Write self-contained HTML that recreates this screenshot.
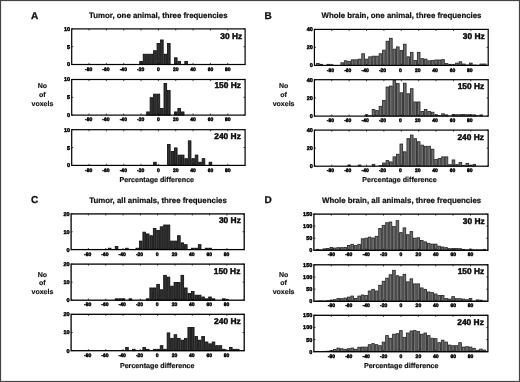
<!DOCTYPE html>
<html lang="en"><head><meta charset="utf-8"><title>Histograms of percentage difference</title>
<style>
html,body{margin:0;padding:0;background:#fff;}
body{width:520px;height:382px;overflow:hidden;}
svg{display:block;font-family:'Liberation Sans', Arial, Helvetica, sans-serif;text-rendering:geometricPrecision;}
</style></head><body>
<svg width="520" height="382" viewBox="0 0 520 382">
<defs><filter id="soft" x="0" y="0" width="520" height="382" filterUnits="userSpaceOnUse"><feGaussianBlur stdDeviation="0.32"/></filter></defs>
<rect x="0" y="0" width="520" height="382" fill="#fff"/>
<g filter="url(#soft)">
<g fill="#303030" stroke="#0c0c0c" stroke-width="0.8"><rect x="139.73" y="61.34" width="2.67" height="3.16"/><rect x="143.19" y="54.22" width="2.67" height="10.28"/><rect x="146.66" y="54.22" width="2.67" height="10.28"/><rect x="150.13" y="54.22" width="2.67" height="10.28"/><rect x="153.60" y="50.66" width="2.67" height="13.84"/><rect x="157.07" y="43.54" width="2.67" height="20.96"/><rect x="160.53" y="39.98" width="2.67" height="24.52"/><rect x="164.00" y="54.22" width="2.67" height="10.28"/><rect x="167.47" y="43.54" width="2.67" height="20.96"/><rect x="174.41" y="57.78" width="2.67" height="6.72"/><rect x="177.87" y="61.34" width="2.67" height="3.16"/><rect x="184.81" y="61.34" width="2.67" height="3.16"/></g>
<rect x="71.70" y="28.90" width="173.40" height="35.60" fill="none" stroke="#050505" stroke-width="1.2"/>
<path d="M89.04 64.50v-1.6M89.04 28.90v1.6M106.38 64.50v-1.6M106.38 28.90v1.6M123.72 64.50v-1.6M123.72 28.90v1.6M141.06 64.50v-1.6M141.06 28.90v1.6M158.40 64.50v-1.6M158.40 28.90v1.6M175.74 64.50v-1.6M175.74 28.90v1.6M193.08 64.50v-1.6M193.08 28.90v1.6M210.42 64.50v-1.6M210.42 28.90v1.6M227.76 64.50v-1.6M227.76 28.90v1.6M71.70 64.50h1.6M245.10 64.50h-1.6M71.70 46.70h1.6M245.10 46.70h-1.6M71.70 28.90h1.6M245.10 28.90h-1.6" stroke="#050505" stroke-width="0.7" fill="none"/>
<g font-size="5" font-weight="bold" fill="#050505" stroke="#050505" stroke-width="0.45"><text x="88.64" y="70.65" text-anchor="middle">-80</text><text x="105.98" y="70.65" text-anchor="middle">-60</text><text x="123.32" y="70.65" text-anchor="middle">-40</text><text x="140.66" y="70.65" text-anchor="middle">-20</text><text x="158.40" y="70.65" text-anchor="middle">0</text><text x="175.74" y="70.65" text-anchor="middle">20</text><text x="193.08" y="70.65" text-anchor="middle">40</text><text x="210.42" y="70.65" text-anchor="middle">60</text><text x="227.76" y="70.65" text-anchor="middle">80</text><text x="70.10" y="66.45" text-anchor="end" font-size="5.5">0</text><text x="70.10" y="48.65" text-anchor="end" font-size="5.5">5</text><text x="70.10" y="30.85" text-anchor="end" font-size="5.5">10</text></g>
<text x="242.15" y="38.65" text-anchor="end" font-size="8.4" font-weight="bold" fill="#080808" stroke="#080808" stroke-width="0.4">30 Hz</text>
<g fill="#303030" stroke="#0c0c0c" stroke-width="0.8"><rect x="146.66" y="111.94" width="2.67" height="3.16"/><rect x="150.13" y="97.70" width="2.67" height="17.40"/><rect x="153.60" y="94.14" width="2.67" height="20.96"/><rect x="157.07" y="94.14" width="2.67" height="20.96"/><rect x="160.53" y="108.38" width="2.67" height="6.72"/><rect x="164.00" y="83.46" width="2.67" height="31.64"/><rect x="167.47" y="90.58" width="2.67" height="24.52"/><rect x="174.41" y="111.94" width="2.67" height="3.16"/><rect x="177.87" y="108.38" width="2.67" height="6.72"/><rect x="181.34" y="111.94" width="2.67" height="3.16"/></g>
<rect x="71.70" y="79.50" width="173.40" height="35.60" fill="none" stroke="#050505" stroke-width="1.2"/>
<path d="M89.04 115.10v-1.6M89.04 79.50v1.6M106.38 115.10v-1.6M106.38 79.50v1.6M123.72 115.10v-1.6M123.72 79.50v1.6M141.06 115.10v-1.6M141.06 79.50v1.6M158.40 115.10v-1.6M158.40 79.50v1.6M175.74 115.10v-1.6M175.74 79.50v1.6M193.08 115.10v-1.6M193.08 79.50v1.6M210.42 115.10v-1.6M210.42 79.50v1.6M227.76 115.10v-1.6M227.76 79.50v1.6M71.70 115.10h1.6M245.10 115.10h-1.6M71.70 97.30h1.6M245.10 97.30h-1.6M71.70 79.50h1.6M245.10 79.50h-1.6" stroke="#050505" stroke-width="0.7" fill="none"/>
<g font-size="5" font-weight="bold" fill="#050505" stroke="#050505" stroke-width="0.45"><text x="88.64" y="121.25" text-anchor="middle">-80</text><text x="105.98" y="121.25" text-anchor="middle">-60</text><text x="123.32" y="121.25" text-anchor="middle">-40</text><text x="140.66" y="121.25" text-anchor="middle">-20</text><text x="158.40" y="121.25" text-anchor="middle">0</text><text x="175.74" y="121.25" text-anchor="middle">20</text><text x="193.08" y="121.25" text-anchor="middle">40</text><text x="210.42" y="121.25" text-anchor="middle">60</text><text x="227.76" y="121.25" text-anchor="middle">80</text><text x="70.10" y="117.05" text-anchor="end" font-size="5.5">0</text><text x="70.10" y="99.25" text-anchor="end" font-size="5.5">5</text><text x="70.10" y="81.45" text-anchor="end" font-size="5.5">10</text></g>
<text x="240.95" y="88.35" text-anchor="end" font-size="8.4" font-weight="bold" fill="#080808" stroke="#080808" stroke-width="0.4">150 Hz</text>
<g fill="#303030" stroke="#0c0c0c" stroke-width="0.8"><rect x="153.60" y="162.23" width="2.67" height="3.17"/><rect x="167.47" y="144.38" width="2.67" height="21.02"/><rect x="170.94" y="151.52" width="2.67" height="13.88"/><rect x="174.41" y="147.95" width="2.67" height="17.45"/><rect x="177.87" y="155.09" width="2.67" height="10.31"/><rect x="181.34" y="155.09" width="2.67" height="10.31"/><rect x="184.81" y="158.66" width="2.67" height="6.74"/><rect x="188.28" y="140.81" width="2.67" height="24.59"/><rect x="191.75" y="158.66" width="2.67" height="6.74"/><rect x="195.21" y="155.09" width="2.67" height="10.31"/><rect x="198.68" y="162.23" width="2.67" height="3.17"/><rect x="202.15" y="158.66" width="2.67" height="6.74"/><rect x="209.09" y="162.23" width="2.67" height="3.17"/></g>
<rect x="71.70" y="129.70" width="173.40" height="35.70" fill="none" stroke="#050505" stroke-width="1.2"/>
<path d="M89.04 165.40v-1.6M89.04 129.70v1.6M106.38 165.40v-1.6M106.38 129.70v1.6M123.72 165.40v-1.6M123.72 129.70v1.6M141.06 165.40v-1.6M141.06 129.70v1.6M158.40 165.40v-1.6M158.40 129.70v1.6M175.74 165.40v-1.6M175.74 129.70v1.6M193.08 165.40v-1.6M193.08 129.70v1.6M210.42 165.40v-1.6M210.42 129.70v1.6M227.76 165.40v-1.6M227.76 129.70v1.6M71.70 165.40h1.6M245.10 165.40h-1.6M71.70 147.55h1.6M245.10 147.55h-1.6M71.70 129.70h1.6M245.10 129.70h-1.6" stroke="#050505" stroke-width="0.7" fill="none"/>
<g font-size="5" font-weight="bold" fill="#050505" stroke="#050505" stroke-width="0.45"><text x="88.64" y="171.55" text-anchor="middle">-80</text><text x="105.98" y="171.55" text-anchor="middle">-60</text><text x="123.32" y="171.55" text-anchor="middle">-40</text><text x="140.66" y="171.55" text-anchor="middle">-20</text><text x="158.40" y="171.55" text-anchor="middle">0</text><text x="175.74" y="171.55" text-anchor="middle">20</text><text x="193.08" y="171.55" text-anchor="middle">40</text><text x="210.42" y="171.55" text-anchor="middle">60</text><text x="227.76" y="171.55" text-anchor="middle">80</text><text x="70.10" y="167.35" text-anchor="end" font-size="5.5">0</text><text x="70.10" y="149.50" text-anchor="end" font-size="5.5">5</text><text x="70.10" y="131.65" text-anchor="end" font-size="5.5">10</text></g>
<text x="240.85" y="138.95" text-anchor="end" font-size="8.4" font-weight="bold" fill="#080808" stroke="#080808" stroke-width="0.4">240 Hz</text>
<g fill="#6e6e6e" stroke="#282828" stroke-width="0.85"><rect x="316.56" y="63.48" width="2.63" height="1.92"/><rect x="340.89" y="62.77" width="2.63" height="2.64"/><rect x="344.37" y="60.79" width="2.63" height="4.62"/><rect x="347.85" y="61.33" width="2.63" height="4.08"/><rect x="351.32" y="59.80" width="2.63" height="5.61"/><rect x="354.80" y="59.80" width="2.63" height="5.61"/><rect x="358.27" y="59.16" width="2.63" height="6.24"/><rect x="361.75" y="53.77" width="2.63" height="11.64"/><rect x="365.23" y="59.16" width="2.63" height="6.24"/><rect x="368.70" y="56.83" width="2.63" height="8.58"/><rect x="372.18" y="56.20" width="2.63" height="9.21"/><rect x="375.65" y="56.20" width="2.63" height="9.21"/><rect x="379.13" y="53.77" width="2.63" height="11.64"/><rect x="382.61" y="50.16" width="2.63" height="15.24"/><rect x="386.08" y="41.25" width="2.63" height="24.15"/><rect x="389.56" y="38.28" width="2.63" height="27.12"/><rect x="393.03" y="49.17" width="2.63" height="16.23"/><rect x="396.51" y="46.92" width="2.63" height="18.48"/><rect x="399.99" y="50.52" width="2.63" height="14.88"/><rect x="403.46" y="44.23" width="2.63" height="21.18"/><rect x="406.94" y="56.83" width="2.63" height="8.58"/><rect x="410.41" y="52.33" width="2.63" height="13.08"/><rect x="413.89" y="60.43" width="2.63" height="4.98"/><rect x="417.37" y="52.33" width="2.63" height="13.08"/><rect x="420.84" y="58.62" width="2.63" height="6.78"/><rect x="424.32" y="59.16" width="2.63" height="6.24"/><rect x="427.79" y="60.79" width="2.63" height="4.62"/><rect x="431.27" y="60.43" width="2.63" height="4.98"/><rect x="434.75" y="59.98" width="2.63" height="5.43"/><rect x="438.22" y="59.98" width="2.63" height="5.43"/><rect x="441.70" y="59.62" width="2.63" height="5.79"/><rect x="445.17" y="63.58" width="2.63" height="1.83"/><rect x="455.60" y="63.12" width="2.63" height="2.28"/><rect x="459.08" y="61.78" width="2.63" height="3.63"/><rect x="462.55" y="64.03" width="2.63" height="1.38"/><rect x="469.51" y="63.12" width="2.63" height="2.28"/><rect x="479.94" y="64.03" width="2.63" height="1.38"/><rect x="483.41" y="64.03" width="2.63" height="1.38"/></g>
<g fill="#282828"><rect x="319.61" y="63.90" width="3.48" height="1.50"/><rect x="326.57" y="63.90" width="3.48" height="1.50"/><rect x="330.04" y="64.35" width="3.48" height="1.05"/><rect x="448.23" y="63.90" width="3.48" height="1.50"/><rect x="451.70" y="64.17" width="3.48" height="1.23"/><rect x="465.61" y="64.53" width="3.48" height="0.87"/><rect x="472.56" y="64.53" width="3.48" height="0.87"/><rect x="476.03" y="64.80" width="3.48" height="0.60"/></g>
<rect x="314.40" y="29.40" width="173.80" height="36.00" fill="none" stroke="#050505" stroke-width="1.2"/>
<path d="M331.78 65.40v-1.6M331.78 29.40v1.6M349.16 65.40v-1.6M349.16 29.40v1.6M366.54 65.40v-1.6M366.54 29.40v1.6M383.92 65.40v-1.6M383.92 29.40v1.6M401.30 65.40v-1.6M401.30 29.40v1.6M418.68 65.40v-1.6M418.68 29.40v1.6M436.06 65.40v-1.6M436.06 29.40v1.6M453.44 65.40v-1.6M453.44 29.40v1.6M470.82 65.40v-1.6M470.82 29.40v1.6M314.40 65.40h1.6M488.20 65.40h-1.6M314.40 47.40h1.6M488.20 47.40h-1.6M314.40 29.40h1.6M488.20 29.40h-1.6" stroke="#050505" stroke-width="0.7" fill="none"/>
<g font-size="5" font-weight="bold" fill="#050505" stroke="#050505" stroke-width="0.45"><text x="330.38" y="71.55" text-anchor="middle">-80</text><text x="347.76" y="71.55" text-anchor="middle">-60</text><text x="365.14" y="71.55" text-anchor="middle">-40</text><text x="382.52" y="71.55" text-anchor="middle">-20</text><text x="400.30" y="71.55" text-anchor="middle">0</text><text x="417.68" y="71.55" text-anchor="middle">20</text><text x="435.06" y="71.55" text-anchor="middle">40</text><text x="452.44" y="71.55" text-anchor="middle">60</text><text x="469.82" y="71.55" text-anchor="middle">80</text><text x="312.80" y="67.35" text-anchor="end" font-size="5.5">0</text><text x="312.80" y="49.35" text-anchor="end" font-size="5.5">20</text><text x="312.80" y="31.35" text-anchor="end" font-size="5.5">40</text></g>
<text x="484.65" y="38.65" text-anchor="end" font-size="8.4" font-weight="bold" fill="#080808" stroke="#080808" stroke-width="0.4">30 Hz</text>
<g fill="#6e6e6e" stroke="#282828" stroke-width="0.85"><rect x="365.23" y="114.70" width="2.63" height="1.39"/><rect x="372.18" y="109.43" width="2.63" height="6.67"/><rect x="375.65" y="110.61" width="2.63" height="5.49"/><rect x="379.13" y="106.33" width="2.63" height="9.77"/><rect x="382.61" y="100.42" width="2.63" height="15.68"/><rect x="386.08" y="87.04" width="2.63" height="29.06"/><rect x="389.56" y="86.04" width="2.63" height="30.06"/><rect x="393.03" y="80.58" width="2.63" height="35.52"/><rect x="396.51" y="83.58" width="2.63" height="32.52"/><rect x="399.99" y="92.77" width="2.63" height="23.33"/><rect x="403.46" y="83.22" width="2.63" height="32.88"/><rect x="406.94" y="93.77" width="2.63" height="22.32"/><rect x="410.41" y="88.68" width="2.63" height="27.42"/><rect x="413.89" y="101.96" width="2.63" height="14.13"/><rect x="417.37" y="101.96" width="2.63" height="14.13"/><rect x="420.84" y="111.43" width="2.63" height="4.67"/><rect x="424.32" y="109.43" width="2.63" height="6.67"/><rect x="427.79" y="111.43" width="2.63" height="4.67"/><rect x="431.27" y="112.25" width="2.63" height="3.85"/><rect x="434.75" y="114.70" width="2.63" height="1.39"/><rect x="441.70" y="113.79" width="2.63" height="2.30"/><rect x="445.17" y="114.89" width="2.63" height="1.21"/><rect x="452.13" y="114.52" width="2.63" height="1.58"/><rect x="455.60" y="114.70" width="2.63" height="1.39"/><rect x="459.08" y="114.70" width="2.63" height="1.39"/><rect x="462.55" y="114.52" width="2.63" height="1.58"/><rect x="466.03" y="114.70" width="2.63" height="1.39"/><rect x="469.51" y="114.70" width="2.63" height="1.39"/><rect x="472.98" y="114.89" width="2.63" height="1.21"/><rect x="479.94" y="114.89" width="2.63" height="1.21"/></g>
<g fill="#282828"><rect x="368.28" y="115.31" width="3.48" height="0.79"/><rect x="437.80" y="115.04" width="3.48" height="1.06"/><rect x="448.23" y="115.49" width="3.48" height="0.60"/><rect x="476.03" y="115.22" width="3.48" height="0.88"/></g>
<rect x="314.40" y="79.70" width="173.80" height="36.40" fill="none" stroke="#050505" stroke-width="1.2"/>
<path d="M331.78 116.10v-1.6M331.78 79.70v1.6M349.16 116.10v-1.6M349.16 79.70v1.6M366.54 116.10v-1.6M366.54 79.70v1.6M383.92 116.10v-1.6M383.92 79.70v1.6M401.30 116.10v-1.6M401.30 79.70v1.6M418.68 116.10v-1.6M418.68 79.70v1.6M436.06 116.10v-1.6M436.06 79.70v1.6M453.44 116.10v-1.6M453.44 79.70v1.6M470.82 116.10v-1.6M470.82 79.70v1.6M314.40 116.10h1.6M488.20 116.10h-1.6M314.40 97.90h1.6M488.20 97.90h-1.6M314.40 79.70h1.6M488.20 79.70h-1.6" stroke="#050505" stroke-width="0.7" fill="none"/>
<g font-size="5" font-weight="bold" fill="#050505" stroke="#050505" stroke-width="0.45"><text x="330.38" y="122.25" text-anchor="middle">-80</text><text x="347.76" y="122.25" text-anchor="middle">-60</text><text x="365.14" y="122.25" text-anchor="middle">-40</text><text x="382.52" y="122.25" text-anchor="middle">-20</text><text x="400.30" y="122.25" text-anchor="middle">0</text><text x="417.68" y="122.25" text-anchor="middle">20</text><text x="435.06" y="122.25" text-anchor="middle">40</text><text x="452.44" y="122.25" text-anchor="middle">60</text><text x="469.82" y="122.25" text-anchor="middle">80</text><text x="312.80" y="118.05" text-anchor="end" font-size="5.5">0</text><text x="312.80" y="99.85" text-anchor="end" font-size="5.5">20</text><text x="312.80" y="81.65" text-anchor="end" font-size="5.5">40</text></g>
<text x="484.25" y="88.65" text-anchor="end" font-size="8.4" font-weight="bold" fill="#080808" stroke="#080808" stroke-width="0.4">150 Hz</text>
<g fill="#6e6e6e" stroke="#282828" stroke-width="0.85"><rect x="372.18" y="164.37" width="2.63" height="1.83"/><rect x="382.61" y="163.01" width="2.63" height="3.18"/><rect x="386.08" y="160.58" width="2.63" height="5.62"/><rect x="389.56" y="161.93" width="2.63" height="4.27"/><rect x="393.03" y="156.88" width="2.63" height="9.32"/><rect x="396.51" y="154.26" width="2.63" height="11.94"/><rect x="399.99" y="144.06" width="2.63" height="22.14"/><rect x="403.46" y="151.82" width="2.63" height="14.38"/><rect x="406.94" y="138.65" width="2.63" height="27.55"/><rect x="410.41" y="135.04" width="2.63" height="31.16"/><rect x="413.89" y="138.65" width="2.63" height="27.55"/><rect x="417.37" y="141.72" width="2.63" height="24.48"/><rect x="420.84" y="145.15" width="2.63" height="21.05"/><rect x="424.32" y="146.32" width="2.63" height="19.88"/><rect x="427.79" y="146.32" width="2.63" height="19.88"/><rect x="431.27" y="149.21" width="2.63" height="16.99"/><rect x="434.75" y="159.41" width="2.63" height="6.79"/><rect x="438.22" y="158.50" width="2.63" height="7.70"/><rect x="441.70" y="156.88" width="2.63" height="9.32"/><rect x="445.17" y="156.88" width="2.63" height="9.32"/><rect x="448.65" y="164.64" width="2.63" height="1.56"/><rect x="452.13" y="159.95" width="2.63" height="6.25"/><rect x="455.60" y="164.64" width="2.63" height="1.56"/><rect x="459.08" y="162.56" width="2.63" height="3.64"/><rect x="466.03" y="163.38" width="2.63" height="2.82"/><rect x="472.98" y="164.37" width="2.63" height="1.83"/></g>
<g fill="#282828"><rect x="347.42" y="164.61" width="3.48" height="1.59"/><rect x="357.85" y="164.61" width="3.48" height="1.59"/><rect x="378.71" y="165.15" width="3.48" height="1.05"/><rect x="462.13" y="164.88" width="3.48" height="1.32"/><rect x="469.08" y="164.88" width="3.48" height="1.32"/></g>
<rect x="314.40" y="130.10" width="173.80" height="36.10" fill="none" stroke="#050505" stroke-width="1.2"/>
<path d="M331.78 166.20v-1.6M331.78 130.10v1.6M349.16 166.20v-1.6M349.16 130.10v1.6M366.54 166.20v-1.6M366.54 130.10v1.6M383.92 166.20v-1.6M383.92 130.10v1.6M401.30 166.20v-1.6M401.30 130.10v1.6M418.68 166.20v-1.6M418.68 130.10v1.6M436.06 166.20v-1.6M436.06 130.10v1.6M453.44 166.20v-1.6M453.44 130.10v1.6M470.82 166.20v-1.6M470.82 130.10v1.6M314.40 166.20h1.6M488.20 166.20h-1.6M314.40 148.15h1.6M488.20 148.15h-1.6M314.40 130.10h1.6M488.20 130.10h-1.6" stroke="#050505" stroke-width="0.7" fill="none"/>
<g font-size="5" font-weight="bold" fill="#050505" stroke="#050505" stroke-width="0.45"><text x="330.38" y="172.35" text-anchor="middle">-80</text><text x="347.76" y="172.35" text-anchor="middle">-60</text><text x="365.14" y="172.35" text-anchor="middle">-40</text><text x="382.52" y="172.35" text-anchor="middle">-20</text><text x="400.30" y="172.35" text-anchor="middle">0</text><text x="417.68" y="172.35" text-anchor="middle">20</text><text x="435.06" y="172.35" text-anchor="middle">40</text><text x="452.44" y="172.35" text-anchor="middle">60</text><text x="469.82" y="172.35" text-anchor="middle">80</text><text x="312.80" y="168.15" text-anchor="end" font-size="5.5">0</text><text x="312.80" y="150.10" text-anchor="end" font-size="5.5">20</text><text x="312.80" y="132.05" text-anchor="end" font-size="5.5">40</text></g>
<text x="483.95" y="140.15" text-anchor="end" font-size="8.4" font-weight="bold" fill="#080808" stroke="#080808" stroke-width="0.4">240 Hz</text>
<g fill="#303030" stroke="#0c0c0c" stroke-width="0.8"><rect x="108.30" y="248.22" width="2.66" height="1.38"/><rect x="115.22" y="246.43" width="2.66" height="3.17"/><rect x="125.61" y="248.22" width="2.66" height="1.38"/><rect x="136.00" y="248.22" width="2.66" height="1.38"/><rect x="139.46" y="241.08" width="2.66" height="8.52"/><rect x="142.92" y="232.15" width="2.66" height="17.45"/><rect x="146.38" y="233.94" width="2.66" height="15.66"/><rect x="149.84" y="235.72" width="2.66" height="13.88"/><rect x="153.31" y="228.58" width="2.66" height="21.02"/><rect x="156.77" y="230.37" width="2.66" height="19.23"/><rect x="160.23" y="226.80" width="2.66" height="22.80"/><rect x="163.69" y="225.01" width="2.66" height="24.59"/><rect x="167.15" y="225.01" width="2.66" height="24.59"/><rect x="170.62" y="241.08" width="2.66" height="8.52"/><rect x="174.08" y="241.08" width="2.66" height="8.52"/><rect x="177.54" y="235.72" width="2.66" height="13.88"/><rect x="181.00" y="242.86" width="2.66" height="6.74"/><rect x="184.46" y="244.65" width="2.66" height="4.95"/><rect x="191.39" y="248.22" width="2.66" height="1.38"/><rect x="194.85" y="248.22" width="2.66" height="1.38"/><rect x="198.31" y="244.65" width="2.66" height="4.95"/><rect x="205.24" y="248.22" width="2.66" height="1.38"/><rect x="208.70" y="248.22" width="2.66" height="1.38"/></g>
<rect x="71.10" y="213.90" width="173.10" height="35.70" fill="none" stroke="#050505" stroke-width="1.3"/>
<path d="M88.41 249.60v-1.6M88.41 213.90v1.6M105.72 249.60v-1.6M105.72 213.90v1.6M123.03 249.60v-1.6M123.03 213.90v1.6M140.34 249.60v-1.6M140.34 213.90v1.6M157.65 249.60v-1.6M157.65 213.90v1.6M174.96 249.60v-1.6M174.96 213.90v1.6M192.27 249.60v-1.6M192.27 213.90v1.6M209.58 249.60v-1.6M209.58 213.90v1.6M226.89 249.60v-1.6M226.89 213.90v1.6M71.10 249.60h1.6M244.20 249.60h-1.6M71.10 231.75h1.6M244.20 231.75h-1.6M71.10 213.90h1.6M244.20 213.90h-1.6" stroke="#050505" stroke-width="0.7" fill="none"/>
<g font-size="5" font-weight="bold" fill="#050505" stroke="#050505" stroke-width="0.45"><text x="87.61" y="255.75" text-anchor="middle">-80</text><text x="104.92" y="255.75" text-anchor="middle">-60</text><text x="122.23" y="255.75" text-anchor="middle">-40</text><text x="139.54" y="255.75" text-anchor="middle">-20</text><text x="157.25" y="255.75" text-anchor="middle">0</text><text x="174.56" y="255.75" text-anchor="middle">20</text><text x="191.87" y="255.75" text-anchor="middle">40</text><text x="209.18" y="255.75" text-anchor="middle">60</text><text x="226.49" y="255.75" text-anchor="middle">80</text><text x="69.50" y="251.55" text-anchor="end" font-size="5.5">0</text><text x="69.50" y="233.70" text-anchor="end" font-size="5.5">10</text><text x="69.50" y="215.85" text-anchor="end" font-size="5.5">20</text></g>
<text x="240.85" y="222.65" text-anchor="end" font-size="8.4" font-weight="bold" fill="#080808" stroke="#080808" stroke-width="0.4">30 Hz</text>
<g fill="#303030" stroke="#0c0c0c" stroke-width="0.8"><rect x="115.22" y="298.79" width="2.66" height="1.40"/><rect x="118.69" y="298.79" width="2.66" height="1.40"/><rect x="122.15" y="298.79" width="2.66" height="1.40"/><rect x="129.07" y="298.79" width="2.66" height="1.40"/><rect x="146.38" y="298.79" width="2.66" height="1.40"/><rect x="149.84" y="287.96" width="2.66" height="12.23"/><rect x="153.31" y="287.96" width="2.66" height="12.23"/><rect x="156.77" y="284.35" width="2.66" height="15.84"/><rect x="160.23" y="289.77" width="2.66" height="10.43"/><rect x="163.69" y="275.33" width="2.66" height="24.87"/><rect x="167.15" y="277.13" width="2.66" height="23.06"/><rect x="170.62" y="286.16" width="2.66" height="14.04"/><rect x="174.08" y="282.55" width="2.66" height="17.65"/><rect x="177.54" y="282.55" width="2.66" height="17.65"/><rect x="181.00" y="275.33" width="2.66" height="24.87"/><rect x="184.46" y="287.96" width="2.66" height="12.23"/><rect x="187.93" y="293.38" width="2.66" height="6.82"/><rect x="191.39" y="291.57" width="2.66" height="8.62"/><rect x="194.85" y="295.18" width="2.66" height="5.01"/><rect x="198.31" y="295.18" width="2.66" height="5.01"/><rect x="201.77" y="296.99" width="2.66" height="3.21"/><rect x="205.24" y="298.79" width="2.66" height="1.40"/><rect x="208.70" y="296.99" width="2.66" height="3.21"/><rect x="212.16" y="298.79" width="2.66" height="1.40"/><rect x="222.55" y="298.79" width="2.66" height="1.40"/></g>
<g fill="#0c0c0c"><rect x="225.61" y="299.33" width="3.46" height="0.87"/></g>
<rect x="71.10" y="264.10" width="173.10" height="36.10" fill="none" stroke="#050505" stroke-width="1.3"/>
<path d="M88.41 300.20v-1.6M88.41 264.10v1.6M105.72 300.20v-1.6M105.72 264.10v1.6M123.03 300.20v-1.6M123.03 264.10v1.6M140.34 300.20v-1.6M140.34 264.10v1.6M157.65 300.20v-1.6M157.65 264.10v1.6M174.96 300.20v-1.6M174.96 264.10v1.6M192.27 300.20v-1.6M192.27 264.10v1.6M209.58 300.20v-1.6M209.58 264.10v1.6M226.89 300.20v-1.6M226.89 264.10v1.6M71.10 300.20h1.6M244.20 300.20h-1.6M71.10 282.15h1.6M244.20 282.15h-1.6M71.10 264.10h1.6M244.20 264.10h-1.6" stroke="#050505" stroke-width="0.7" fill="none"/>
<g font-size="5" font-weight="bold" fill="#050505" stroke="#050505" stroke-width="0.45"><text x="87.61" y="306.35" text-anchor="middle">-80</text><text x="104.92" y="306.35" text-anchor="middle">-60</text><text x="122.23" y="306.35" text-anchor="middle">-40</text><text x="139.54" y="306.35" text-anchor="middle">-20</text><text x="157.25" y="306.35" text-anchor="middle">0</text><text x="174.56" y="306.35" text-anchor="middle">20</text><text x="191.87" y="306.35" text-anchor="middle">40</text><text x="209.18" y="306.35" text-anchor="middle">60</text><text x="226.49" y="306.35" text-anchor="middle">80</text><text x="69.50" y="302.15" text-anchor="end" font-size="5.5">0</text><text x="69.50" y="284.10" text-anchor="end" font-size="5.5">10</text><text x="69.50" y="266.05" text-anchor="end" font-size="5.5">20</text></g>
<text x="240.35" y="273.65" text-anchor="end" font-size="8.4" font-weight="bold" fill="#080808" stroke="#080808" stroke-width="0.4">150 Hz</text>
<g fill="#303030" stroke="#0c0c0c" stroke-width="0.8"><rect x="125.61" y="347.46" width="2.66" height="3.24"/><rect x="132.53" y="349.28" width="2.66" height="1.42"/><rect x="142.92" y="347.46" width="2.66" height="3.24"/><rect x="146.38" y="349.28" width="2.66" height="1.42"/><rect x="153.31" y="349.28" width="2.66" height="1.42"/><rect x="156.77" y="349.28" width="2.66" height="1.42"/><rect x="160.23" y="345.64" width="2.66" height="5.06"/><rect x="163.69" y="349.28" width="2.66" height="1.42"/><rect x="167.15" y="332.90" width="2.66" height="17.80"/><rect x="170.62" y="338.36" width="2.66" height="12.34"/><rect x="174.08" y="334.72" width="2.66" height="15.98"/><rect x="177.54" y="338.36" width="2.66" height="12.34"/><rect x="181.00" y="340.18" width="2.66" height="10.52"/><rect x="184.46" y="338.36" width="2.66" height="12.34"/><rect x="187.93" y="327.44" width="2.66" height="23.26"/><rect x="191.39" y="327.44" width="2.66" height="23.26"/><rect x="194.85" y="336.54" width="2.66" height="14.16"/><rect x="198.31" y="340.18" width="2.66" height="10.52"/><rect x="201.77" y="336.54" width="2.66" height="14.16"/><rect x="205.24" y="342.00" width="2.66" height="8.70"/><rect x="208.70" y="343.82" width="2.66" height="6.88"/><rect x="212.16" y="342.00" width="2.66" height="8.70"/><rect x="215.62" y="345.64" width="2.66" height="5.06"/><rect x="219.08" y="345.64" width="2.66" height="5.06"/><rect x="222.55" y="349.28" width="2.66" height="1.42"/><rect x="229.47" y="347.46" width="2.66" height="3.24"/><rect x="232.93" y="349.28" width="2.66" height="1.42"/><rect x="236.39" y="349.28" width="2.66" height="1.42"/></g>
<rect x="71.10" y="314.30" width="173.10" height="36.40" fill="none" stroke="#050505" stroke-width="1.3"/>
<path d="M88.41 350.70v-1.6M88.41 314.30v1.6M105.72 350.70v-1.6M105.72 314.30v1.6M123.03 350.70v-1.6M123.03 314.30v1.6M140.34 350.70v-1.6M140.34 314.30v1.6M157.65 350.70v-1.6M157.65 314.30v1.6M174.96 350.70v-1.6M174.96 314.30v1.6M192.27 350.70v-1.6M192.27 314.30v1.6M209.58 350.70v-1.6M209.58 314.30v1.6M226.89 350.70v-1.6M226.89 314.30v1.6M71.10 350.70h1.6M244.20 350.70h-1.6M71.10 332.50h1.6M244.20 332.50h-1.6M71.10 314.30h1.6M244.20 314.30h-1.6" stroke="#050505" stroke-width="0.7" fill="none"/>
<g font-size="5" font-weight="bold" fill="#050505" stroke="#050505" stroke-width="0.45"><text x="87.61" y="356.85" text-anchor="middle">-80</text><text x="104.92" y="356.85" text-anchor="middle">-60</text><text x="122.23" y="356.85" text-anchor="middle">-40</text><text x="139.54" y="356.85" text-anchor="middle">-20</text><text x="157.25" y="356.85" text-anchor="middle">0</text><text x="174.56" y="356.85" text-anchor="middle">20</text><text x="191.87" y="356.85" text-anchor="middle">40</text><text x="209.18" y="356.85" text-anchor="middle">60</text><text x="226.49" y="356.85" text-anchor="middle">80</text><text x="69.50" y="352.65" text-anchor="end" font-size="5.5">0</text><text x="69.50" y="334.45" text-anchor="end" font-size="5.5">10</text><text x="69.50" y="316.25" text-anchor="end" font-size="5.5">20</text></g>
<text x="240.65" y="324.35" text-anchor="end" font-size="8.4" font-weight="bold" fill="#080808" stroke="#080808" stroke-width="0.4">240 Hz</text>
<g fill="#6e6e6e" stroke="#282828" stroke-width="0.85"><rect x="323.02" y="248.87" width="2.63" height="1.43"/><rect x="326.50" y="248.46" width="2.63" height="1.84"/><rect x="329.98" y="247.44" width="2.63" height="2.86"/><rect x="333.46" y="248.07" width="2.63" height="2.23"/><rect x="336.94" y="247.64" width="2.63" height="2.66"/><rect x="340.43" y="247.64" width="2.63" height="2.66"/><rect x="343.90" y="247.44" width="2.63" height="2.86"/><rect x="347.38" y="245.42" width="2.63" height="4.88"/><rect x="350.87" y="244.35" width="2.63" height="5.95"/><rect x="354.34" y="245.58" width="2.63" height="4.72"/><rect x="357.82" y="244.35" width="2.63" height="5.95"/><rect x="361.31" y="238.80" width="2.63" height="11.50"/><rect x="364.78" y="238.18" width="2.63" height="12.12"/><rect x="368.26" y="237.14" width="2.63" height="13.16"/><rect x="371.75" y="237.96" width="2.63" height="12.34"/><rect x="375.22" y="236.32" width="2.63" height="13.98"/><rect x="378.70" y="228.52" width="2.63" height="21.78"/><rect x="382.19" y="225.39" width="2.63" height="24.92"/><rect x="385.66" y="222.73" width="2.63" height="27.57"/><rect x="389.14" y="222.01" width="2.63" height="28.29"/><rect x="392.62" y="226.45" width="2.63" height="23.85"/><rect x="396.10" y="220.68" width="2.63" height="29.62"/><rect x="399.58" y="232.62" width="2.63" height="17.68"/><rect x="403.06" y="227.89" width="2.63" height="22.41"/><rect x="406.55" y="234.68" width="2.63" height="15.62"/><rect x="410.02" y="231.59" width="2.63" height="18.71"/><rect x="413.50" y="238.18" width="2.63" height="12.12"/><rect x="416.99" y="237.77" width="2.63" height="12.53"/><rect x="420.46" y="240.44" width="2.63" height="9.86"/><rect x="423.94" y="241.87" width="2.63" height="8.43"/><rect x="427.43" y="243.32" width="2.63" height="6.98"/><rect x="430.90" y="244.14" width="2.63" height="6.16"/><rect x="434.38" y="244.14" width="2.63" height="6.16"/><rect x="437.87" y="246.19" width="2.63" height="4.11"/><rect x="441.34" y="247.03" width="2.63" height="3.27"/><rect x="444.82" y="247.64" width="2.63" height="2.66"/><rect x="448.31" y="248.67" width="2.63" height="1.63"/><rect x="451.78" y="248.46" width="2.63" height="1.84"/><rect x="455.26" y="248.46" width="2.63" height="1.84"/><rect x="458.75" y="248.67" width="2.63" height="1.63"/></g>
<g fill="#282828"><rect x="315.64" y="248.94" width="3.48" height="1.36"/><rect x="319.12" y="249.33" width="3.48" height="0.97"/><rect x="461.80" y="248.94" width="3.48" height="1.36"/><rect x="465.28" y="249.33" width="3.48" height="0.97"/><rect x="468.76" y="248.70" width="3.48" height="1.60"/><rect x="472.24" y="249.33" width="3.48" height="0.97"/><rect x="475.72" y="249.33" width="3.48" height="0.97"/><rect x="479.20" y="249.33" width="3.48" height="0.97"/><rect x="482.68" y="248.94" width="3.48" height="1.36"/></g>
<rect x="313.90" y="214.10" width="174.00" height="36.20" fill="none" stroke="#050505" stroke-width="1.3"/>
<path d="M331.30 250.30v-1.6M331.30 214.10v1.6M348.70 250.30v-1.6M348.70 214.10v1.6M366.10 250.30v-1.6M366.10 214.10v1.6M383.50 250.30v-1.6M383.50 214.10v1.6M400.90 250.30v-1.6M400.90 214.10v1.6M418.30 250.30v-1.6M418.30 214.10v1.6M435.70 250.30v-1.6M435.70 214.10v1.6M453.10 250.30v-1.6M453.10 214.10v1.6M470.50 250.30v-1.6M470.50 214.10v1.6M313.90 250.30h1.6M487.90 250.30h-1.6M313.90 238.23h1.6M487.90 238.23h-1.6M313.90 226.17h1.6M487.90 226.17h-1.6M313.90 214.10h1.6M487.90 214.10h-1.6" stroke="#050505" stroke-width="0.7" fill="none"/>
<g font-size="5" font-weight="bold" fill="#050505" stroke="#050505" stroke-width="0.45"><text x="331.40" y="256.45" text-anchor="middle">-80</text><text x="348.80" y="256.45" text-anchor="middle">-60</text><text x="366.20" y="256.45" text-anchor="middle">-40</text><text x="383.60" y="256.45" text-anchor="middle">-20</text><text x="401.00" y="256.45" text-anchor="middle">0</text><text x="418.40" y="256.45" text-anchor="middle">20</text><text x="435.80" y="256.45" text-anchor="middle">40</text><text x="453.20" y="256.45" text-anchor="middle">60</text><text x="470.60" y="256.45" text-anchor="middle">80</text><text x="312.30" y="252.25" text-anchor="end" font-size="5.5">0</text><text x="312.30" y="240.18" text-anchor="end" font-size="5.5">50</text><text x="312.30" y="228.12" text-anchor="end" font-size="5.5">100</text><text x="312.30" y="216.05" text-anchor="end" font-size="5.5">150</text></g>
<text x="484.65" y="223.55" text-anchor="end" font-size="8.4" font-weight="bold" fill="#080808" stroke="#080808" stroke-width="0.4">30 Hz</text>
<g fill="#6e6e6e" stroke="#282828" stroke-width="0.85"><rect x="329.98" y="300.09" width="2.63" height="1.21"/><rect x="333.46" y="299.71" width="2.63" height="1.59"/><rect x="336.94" y="298.49" width="2.63" height="2.81"/><rect x="340.43" y="298.68" width="2.63" height="2.62"/><rect x="343.90" y="298.08" width="2.63" height="3.23"/><rect x="347.38" y="297.10" width="2.63" height="4.20"/><rect x="350.87" y="296.06" width="2.63" height="5.24"/><rect x="354.34" y="298.49" width="2.63" height="2.81"/><rect x="357.82" y="296.06" width="2.63" height="5.24"/><rect x="361.31" y="295.03" width="2.63" height="6.27"/><rect x="364.78" y="295.45" width="2.63" height="5.85"/><rect x="368.26" y="291.02" width="2.63" height="10.28"/><rect x="371.75" y="289.36" width="2.63" height="11.94"/><rect x="375.22" y="291.02" width="2.63" height="10.28"/><rect x="378.70" y="285.30" width="2.63" height="16.00"/><rect x="382.19" y="281.29" width="2.63" height="20.02"/><rect x="385.66" y="278.19" width="2.63" height="23.11"/><rect x="389.14" y="274.76" width="2.63" height="26.54"/><rect x="392.62" y="270.34" width="2.63" height="30.96"/><rect x="396.10" y="275.76" width="2.63" height="25.54"/><rect x="399.58" y="276.78" width="2.63" height="24.52"/><rect x="403.06" y="274.35" width="2.63" height="26.95"/><rect x="406.55" y="281.84" width="2.63" height="19.46"/><rect x="410.02" y="278.85" width="2.63" height="22.45"/><rect x="413.50" y="283.89" width="2.63" height="17.41"/><rect x="416.99" y="283.89" width="2.63" height="17.41"/><rect x="420.46" y="287.93" width="2.63" height="13.37"/><rect x="423.94" y="289.36" width="2.63" height="11.94"/><rect x="427.43" y="291.99" width="2.63" height="9.31"/><rect x="430.90" y="292.60" width="2.63" height="8.70"/><rect x="434.38" y="294.01" width="2.63" height="7.29"/><rect x="437.87" y="295.45" width="2.63" height="5.85"/><rect x="441.34" y="295.45" width="2.63" height="5.85"/><rect x="444.82" y="298.49" width="2.63" height="2.81"/><rect x="448.31" y="299.10" width="2.63" height="2.20"/><rect x="451.78" y="296.66" width="2.63" height="4.64"/><rect x="455.26" y="298.68" width="2.63" height="2.62"/><rect x="458.75" y="298.68" width="2.63" height="2.62"/><rect x="462.22" y="299.10" width="2.63" height="2.20"/><rect x="465.70" y="299.71" width="2.63" height="1.59"/><rect x="469.19" y="298.49" width="2.63" height="2.81"/><rect x="476.14" y="299.90" width="2.63" height="1.40"/></g>
<g fill="#282828"><rect x="315.64" y="300.54" width="3.48" height="0.76"/><rect x="319.12" y="300.35" width="3.48" height="0.95"/><rect x="322.60" y="300.54" width="3.48" height="0.76"/><rect x="326.08" y="300.18" width="3.48" height="1.12"/><rect x="472.24" y="300.54" width="3.48" height="0.76"/><rect x="479.20" y="299.74" width="3.48" height="1.56"/><rect x="482.68" y="300.54" width="3.48" height="0.76"/></g>
<rect x="313.90" y="264.80" width="174.00" height="36.50" fill="none" stroke="#050505" stroke-width="1.3"/>
<path d="M331.30 301.30v-1.6M331.30 264.80v1.6M348.70 301.30v-1.6M348.70 264.80v1.6M366.10 301.30v-1.6M366.10 264.80v1.6M383.50 301.30v-1.6M383.50 264.80v1.6M400.90 301.30v-1.6M400.90 264.80v1.6M418.30 301.30v-1.6M418.30 264.80v1.6M435.70 301.30v-1.6M435.70 264.80v1.6M453.10 301.30v-1.6M453.10 264.80v1.6M470.50 301.30v-1.6M470.50 264.80v1.6M313.90 301.30h1.6M487.90 301.30h-1.6M313.90 289.13h1.6M487.90 289.13h-1.6M313.90 276.97h1.6M487.90 276.97h-1.6M313.90 264.80h1.6M487.90 264.80h-1.6" stroke="#050505" stroke-width="0.7" fill="none"/>
<g font-size="5" font-weight="bold" fill="#050505" stroke="#050505" stroke-width="0.45"><text x="331.40" y="307.45" text-anchor="middle">-80</text><text x="348.80" y="307.45" text-anchor="middle">-60</text><text x="366.20" y="307.45" text-anchor="middle">-40</text><text x="383.60" y="307.45" text-anchor="middle">-20</text><text x="401.00" y="307.45" text-anchor="middle">0</text><text x="418.40" y="307.45" text-anchor="middle">20</text><text x="435.80" y="307.45" text-anchor="middle">40</text><text x="453.20" y="307.45" text-anchor="middle">60</text><text x="470.60" y="307.45" text-anchor="middle">80</text><text x="312.30" y="303.25" text-anchor="end" font-size="5.5">0</text><text x="312.30" y="291.08" text-anchor="end" font-size="5.5">50</text><text x="312.30" y="278.92" text-anchor="end" font-size="5.5">100</text><text x="312.30" y="266.75" text-anchor="end" font-size="5.5">150</text></g>
<text x="484.25" y="274.15" text-anchor="end" font-size="8.4" font-weight="bold" fill="#080808" stroke="#080808" stroke-width="0.4">150 Hz</text>
<g fill="#6e6e6e" stroke="#282828" stroke-width="0.85"><rect x="333.46" y="349.50" width="2.63" height="2.20"/><rect x="336.94" y="348.10" width="2.63" height="3.60"/><rect x="340.43" y="348.73" width="2.63" height="2.97"/><rect x="343.90" y="349.31" width="2.63" height="2.39"/><rect x="347.38" y="348.73" width="2.63" height="2.97"/><rect x="350.87" y="348.10" width="2.63" height="3.60"/><rect x="354.34" y="349.31" width="2.63" height="2.39"/><rect x="357.82" y="347.27" width="2.63" height="4.43"/><rect x="361.31" y="347.10" width="2.63" height="4.60"/><rect x="364.78" y="347.10" width="2.63" height="4.60"/><rect x="368.26" y="344.68" width="2.63" height="7.02"/><rect x="371.75" y="343.68" width="2.63" height="8.02"/><rect x="375.22" y="344.68" width="2.63" height="7.02"/><rect x="378.70" y="345.69" width="2.63" height="6.01"/><rect x="382.19" y="342.08" width="2.63" height="9.62"/><rect x="385.66" y="335.62" width="2.63" height="16.08"/><rect x="389.14" y="338.29" width="2.63" height="13.41"/><rect x="392.62" y="334.24" width="2.63" height="17.46"/><rect x="396.10" y="333.68" width="2.63" height="18.02"/><rect x="399.58" y="330.62" width="2.63" height="21.08"/><rect x="403.06" y="337.32" width="2.63" height="14.38"/><rect x="406.55" y="333.03" width="2.63" height="18.67"/><rect x="410.02" y="331.01" width="2.63" height="20.69"/><rect x="413.50" y="330.62" width="2.63" height="21.08"/><rect x="416.99" y="331.62" width="2.63" height="20.08"/><rect x="420.46" y="334.24" width="2.63" height="17.46"/><rect x="423.94" y="333.03" width="2.63" height="18.67"/><rect x="427.43" y="335.62" width="2.63" height="16.08"/><rect x="430.90" y="338.29" width="2.63" height="13.41"/><rect x="434.38" y="338.66" width="2.63" height="13.04"/><rect x="437.87" y="342.66" width="2.63" height="9.04"/><rect x="441.34" y="340.23" width="2.63" height="11.47"/><rect x="444.82" y="342.08" width="2.63" height="9.62"/><rect x="448.31" y="345.09" width="2.63" height="6.61"/><rect x="451.78" y="345.69" width="2.63" height="6.01"/><rect x="455.26" y="345.69" width="2.63" height="6.01"/><rect x="458.75" y="342.66" width="2.63" height="9.04"/><rect x="462.22" y="347.10" width="2.63" height="4.60"/><rect x="465.70" y="346.69" width="2.63" height="5.01"/><rect x="469.19" y="347.10" width="2.63" height="4.60"/><rect x="472.67" y="348.32" width="2.63" height="3.38"/><rect x="476.14" y="350.31" width="2.63" height="1.39"/><rect x="479.62" y="349.12" width="2.63" height="2.58"/><rect x="483.10" y="350.11" width="2.63" height="1.59"/></g>
<g fill="#282828"><rect x="315.64" y="350.94" width="3.48" height="0.76"/><rect x="322.60" y="350.94" width="3.48" height="0.76"/><rect x="326.08" y="350.75" width="3.48" height="0.95"/><rect x="329.56" y="350.14" width="3.48" height="1.56"/></g>
<rect x="313.90" y="315.30" width="174.00" height="36.40" fill="none" stroke="#050505" stroke-width="1.3"/>
<path d="M331.30 351.70v-1.6M331.30 315.30v1.6M348.70 351.70v-1.6M348.70 315.30v1.6M366.10 351.70v-1.6M366.10 315.30v1.6M383.50 351.70v-1.6M383.50 315.30v1.6M400.90 351.70v-1.6M400.90 315.30v1.6M418.30 351.70v-1.6M418.30 315.30v1.6M435.70 351.70v-1.6M435.70 315.30v1.6M453.10 351.70v-1.6M453.10 315.30v1.6M470.50 351.70v-1.6M470.50 315.30v1.6M313.90 351.70h1.6M487.90 351.70h-1.6M313.90 339.57h1.6M487.90 339.57h-1.6M313.90 327.43h1.6M487.90 327.43h-1.6M313.90 315.30h1.6M487.90 315.30h-1.6" stroke="#050505" stroke-width="0.7" fill="none"/>
<g font-size="5" font-weight="bold" fill="#050505" stroke="#050505" stroke-width="0.45"><text x="331.40" y="357.85" text-anchor="middle">-80</text><text x="348.80" y="357.85" text-anchor="middle">-60</text><text x="366.20" y="357.85" text-anchor="middle">-40</text><text x="383.60" y="357.85" text-anchor="middle">-20</text><text x="401.00" y="357.85" text-anchor="middle">0</text><text x="418.40" y="357.85" text-anchor="middle">20</text><text x="435.80" y="357.85" text-anchor="middle">40</text><text x="453.20" y="357.85" text-anchor="middle">60</text><text x="470.60" y="357.85" text-anchor="middle">80</text><text x="312.30" y="353.65" text-anchor="end" font-size="5.5">0</text><text x="312.30" y="341.52" text-anchor="end" font-size="5.5">50</text><text x="312.30" y="329.38" text-anchor="end" font-size="5.5">100</text><text x="312.30" y="317.25" text-anchor="end" font-size="5.5">150</text></g>
<text x="483.85" y="324.55" text-anchor="end" font-size="8.4" font-weight="bold" fill="#080808" stroke="#080808" stroke-width="0.4">240 Hz</text>
<text x="158.3" y="17.8" text-anchor="middle" font-size="7.85" font-weight="bold" fill="#111" stroke="#111" stroke-width="0.2">Tumor, one animal, three frequencies</text>
<text x="401.5" y="17.9" text-anchor="middle" font-size="7.85" font-weight="bold" fill="#111" stroke="#111" stroke-width="0.2">Whole brain, one animal, three frequencies</text>
<text x="158.0" y="203.4" text-anchor="middle" font-size="7.85" font-weight="bold" fill="#111" stroke="#111" stroke-width="0.2">Tumor, all animals, three frequencies</text>
<text x="401.6" y="203.3" text-anchor="middle" font-size="7.85" font-weight="bold" fill="#111" stroke="#111" stroke-width="0.2">Whole brain, all animals, three frequencies</text>
<text x="31" y="19.4" font-size="10" font-weight="bold" fill="#111" stroke="#111" stroke-width="0.3">A</text>
<text x="264.4" y="19.4" font-size="10" font-weight="bold" fill="#111" stroke="#111" stroke-width="0.3">B</text>
<text x="31" y="203.3" font-size="10" font-weight="bold" fill="#111" stroke="#111" stroke-width="0.3">C</text>
<text x="264.4" y="203.3" font-size="10" font-weight="bold" fill="#111" stroke="#111" stroke-width="0.3">D</text>
<text x="42.4" y="88.40" text-anchor="middle" font-size="7" font-weight="bold" fill="#111" stroke="#111" stroke-width="0.15">No</text>
<text x="42.4" y="97.00" text-anchor="middle" font-size="7" font-weight="bold" fill="#111" stroke="#111" stroke-width="0.15">of</text>
<text x="42.4" y="105.60" text-anchor="middle" font-size="7" font-weight="bold" fill="#111" stroke="#111" stroke-width="0.15">voxels</text>
<text x="283.6" y="88.40" text-anchor="middle" font-size="7" font-weight="bold" fill="#111" stroke="#111" stroke-width="0.15">No</text>
<text x="283.6" y="97.00" text-anchor="middle" font-size="7" font-weight="bold" fill="#111" stroke="#111" stroke-width="0.15">of</text>
<text x="283.6" y="105.60" text-anchor="middle" font-size="7" font-weight="bold" fill="#111" stroke="#111" stroke-width="0.15">voxels</text>
<text x="42.4" y="276.60" text-anchor="middle" font-size="7" font-weight="bold" fill="#111" stroke="#111" stroke-width="0.15">No</text>
<text x="42.4" y="285.20" text-anchor="middle" font-size="7" font-weight="bold" fill="#111" stroke="#111" stroke-width="0.15">of</text>
<text x="42.4" y="293.80" text-anchor="middle" font-size="7" font-weight="bold" fill="#111" stroke="#111" stroke-width="0.15">voxels</text>
<text x="283.6" y="276.60" text-anchor="middle" font-size="7" font-weight="bold" fill="#111" stroke="#111" stroke-width="0.15">No</text>
<text x="283.6" y="285.20" text-anchor="middle" font-size="7" font-weight="bold" fill="#111" stroke="#111" stroke-width="0.15">of</text>
<text x="283.6" y="293.80" text-anchor="middle" font-size="7" font-weight="bold" fill="#111" stroke="#111" stroke-width="0.15">voxels</text>
<text x="156.8" y="181.5" text-anchor="middle" font-size="7.15" font-weight="bold" fill="#111" stroke="#111" stroke-width="0.2">Percentage difference</text>
<text x="399.5" y="181.5" text-anchor="middle" font-size="7.15" font-weight="bold" fill="#111" stroke="#111" stroke-width="0.2">Percentage difference</text>
<text x="157.2" y="367.5" text-anchor="middle" font-size="7.15" font-weight="bold" fill="#111" stroke="#111" stroke-width="0.2">Percentage difference</text>
<text x="401.2" y="367.5" text-anchor="middle" font-size="7.15" font-weight="bold" fill="#111" stroke="#111" stroke-width="0.2">Percentage difference</text>
</g>
<rect x="0.5" y="0.5" width="519" height="381" fill="none" stroke="#444" stroke-width="1.2"/>
</svg>
</body></html>
